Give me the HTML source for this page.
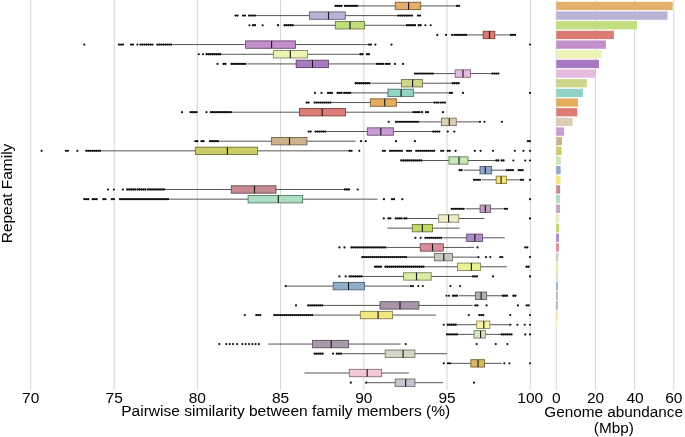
<!DOCTYPE html>
<html><head><meta charset="utf-8"><style>
html,body{margin:0;padding:0;background:#fff;}
body{width:685px;height:437px;overflow:hidden;position:relative;}
svg{position:absolute;left:0;top:0;}
.g{stroke:#d6d6d6;stroke-width:1;}
.w{stroke:#555;stroke-width:1;}
.b{stroke-width:0.9;}
.m{stroke:#1a1a1a;stroke-width:1.15;}
.o{fill:#111;}
.od{stroke:#111;stroke-width:2.3;stroke-linecap:round;stroke-dasharray:0 2.0;}
text{font-family:"Liberation Sans",Arial,sans-serif;fill:#000;}
</style></head><body>
<svg width="685" height="437" viewBox="0 0 685 437">
<line x1="30.7" y1="0" x2="30.7" y2="390" class="g"/>
<line x1="114.2" y1="0" x2="114.2" y2="390" class="g"/>
<line x1="197.3" y1="0" x2="197.3" y2="390" class="g"/>
<line x1="280.5" y1="0" x2="280.5" y2="390" class="g"/>
<line x1="363.8" y1="0" x2="363.8" y2="390" class="g"/>
<line x1="447" y1="0" x2="447" y2="390" class="g"/>
<line x1="530.3" y1="0" x2="530.3" y2="390" class="g"/>
<line x1="556.3" y1="0" x2="556.3" y2="390" class="g"/>
<line x1="595.5" y1="0" x2="595.5" y2="390" class="g"/>
<line x1="634.6" y1="0" x2="634.6" y2="390" class="g"/>
<line x1="673.8" y1="0" x2="673.8" y2="390" class="g"/>
<rect x="556.3" y="1.8" width="116.4" height="8.3" fill="#E4B069"/>
<rect x="556.3" y="11.46" width="111.3" height="8.3" fill="#B9B3D6"/>
<rect x="556.3" y="21.12" width="80.7" height="8.3" fill="#C2DE7E"/>
<rect x="556.3" y="30.78" width="57.6" height="8.3" fill="#DD7A72"/>
<rect x="556.3" y="40.44" width="49.6" height="8.3" fill="#C48ECC"/>
<rect x="556.3" y="50.1" width="45.5" height="8.3" fill="#EDF4B6"/>
<rect x="556.3" y="59.76" width="42.7" height="8.3" fill="#A97AC2"/>
<rect x="556.3" y="69.42" width="39.3" height="8.3" fill="#E7BAE0"/>
<rect x="556.3" y="79.08" width="30.6" height="8.3" fill="#CFD68A"/>
<rect x="556.3" y="88.74" width="26.7" height="8.3" fill="#93D3C6"/>
<rect x="556.3" y="98.4" width="21.7" height="8.3" fill="#E5AE5E"/>
<rect x="556.3" y="108.06" width="21" height="8.3" fill="#DE7B76"/>
<rect x="556.3" y="117.72" width="16.4" height="8.3" fill="#DCCDB5"/>
<rect x="556.3" y="127.38" width="7.7" height="8.3" fill="#C99AD6"/>
<rect x="556.3" y="137.04" width="5.7" height="8.3" fill="#CDB28C"/>
<rect x="556.3" y="146.7" width="5.2" height="8.3" fill="#CCCC66"/>
<rect x="556.3" y="156.36" width="4.5" height="8.3" fill="#C9E6B5"/>
<rect x="556.3" y="166.02" width="4.3" height="8.3" fill="#8EA7CC"/>
<rect x="556.3" y="175.68" width="4.1" height="8.3" fill="#F5E67A"/>
<rect x="556.3" y="185.34" width="3.9" height="8.3" fill="#C48A90"/>
<rect x="556.3" y="195" width="3.6" height="8.3" fill="#ACDEC2"/>
<rect x="556.3" y="204.66" width="3.6" height="8.3" fill="#C2A0C2"/>
<rect x="556.3" y="214.32" width="3.1" height="8.3" fill="#EFEDC3"/>
<rect x="556.3" y="223.98" width="2.9" height="8.3" fill="#C2DA66"/>
<rect x="556.3" y="233.64" width="2.7" height="8.3" fill="#AE8ECA"/>
<rect x="556.3" y="243.3" width="2.7" height="8.3" fill="#DA8E9A"/>
<rect x="556.3" y="252.96" width="2" height="8.3" fill="#C8C8C0"/>
<rect x="556.3" y="262.62" width="2" height="8.3" fill="#EAF095"/>
<rect x="556.3" y="272.28" width="1.7" height="8.3" fill="#DDEDA8"/>
<rect x="556.3" y="281.94" width="1.6" height="8.3" fill="#90AECC"/>
<rect x="556.3" y="291.6" width="1.5" height="8.3" fill="#B0B0B0"/>
<rect x="556.3" y="301.26" width="1.3" height="8.3" fill="#A896A8"/>
<rect x="556.3" y="310.92" width="1.2" height="8.3" fill="#F2E680"/>
<rect x="556.3" y="320.58" width="1" height="8.3" fill="#FBF5A8"/>
<line x1="358" y1="5.95" x2="457" y2="5.95" class="w"/>
<rect x="395.3" y="2.25" width="25.4" height="7.4" fill="#E4B069" stroke="#7d6039" class="b"/>
<line x1="408.6" y1="2.25" x2="408.6" y2="9.65" class="m"/>
<line x1="335.5" y1="5.95" x2="342" y2="5.95" class="od"/>
<line x1="345" y1="5.95" x2="358" y2="5.95" class="od"/>
<line x1="457" y1="5.95" x2="460" y2="5.95" class="od"/>
<line x1="256" y1="15.61" x2="398.3" y2="15.61" class="w"/>
<rect x="309.4" y="11.91" width="35.9" height="7.4" fill="#B9B3D6" stroke="#656275" class="b"/>
<line x1="328.5" y1="11.91" x2="328.5" y2="19.31" class="m"/>
<line x1="235.5" y1="15.61" x2="239" y2="15.61" class="od"/>
<line x1="243" y1="15.61" x2="247" y2="15.61" class="od"/>
<line x1="249" y1="15.61" x2="256" y2="15.61" class="od"/>
<line x1="398.3" y1="15.61" x2="406.6" y2="15.61" class="od"/>
<line x1="408" y1="15.61" x2="413" y2="15.61" class="od"/>
<line x1="418" y1="15.61" x2="421" y2="15.61" class="od"/>
<line x1="293" y1="25.27" x2="407" y2="25.27" class="w"/>
<rect x="335.3" y="21.57" width="29.2" height="7.4" fill="#C2DE7E" stroke="#6a7a45" class="b"/>
<line x1="350" y1="21.57" x2="350" y2="28.97" class="m"/>
<circle cx="249.5" cy="25.27" r="1.1" class="o"/>
<line x1="253" y1="25.27" x2="257" y2="25.27" class="od"/>
<circle cx="262.7" cy="25.27" r="1.1" class="o"/>
<line x1="278" y1="25.27" x2="280" y2="25.27" class="od"/>
<line x1="284.6" y1="25.27" x2="293" y2="25.27" class="od"/>
<line x1="407" y1="25.27" x2="417" y2="25.27" class="od"/>
<line x1="418.7" y1="25.27" x2="421.6" y2="25.27" class="od"/>
<circle cx="425.4" cy="25.27" r="1.1" class="o"/>
<circle cx="430.7" cy="25.27" r="1.1" class="o"/>
<line x1="467.5" y1="34.93" x2="511" y2="34.93" class="w"/>
<rect x="483.2" y="31.23" width="11.6" height="7.4" fill="#DD7A72" stroke="#79433e" class="b"/>
<line x1="489.5" y1="31.23" x2="489.5" y2="38.63" class="m"/>
<circle cx="437.3" cy="34.93" r="1.1" class="o"/>
<circle cx="446" cy="34.93" r="1.1" class="o"/>
<circle cx="452" cy="34.93" r="1.1" class="o"/>
<line x1="454.3" y1="34.93" x2="467.5" y2="34.93" class="od"/>
<line x1="511" y1="34.93" x2="516" y2="34.93" class="od"/>
<line x1="172.7" y1="44.59" x2="368.8" y2="44.59" class="w"/>
<rect x="245.6" y="40.89" width="49.8" height="7.4" fill="#C48ECC" stroke="#6b4e70" class="b"/>
<line x1="271.6" y1="40.89" x2="271.6" y2="48.29" class="m"/>
<circle cx="84.3" cy="44.59" r="1.1" class="o"/>
<line x1="119" y1="44.59" x2="124.6" y2="44.59" class="od"/>
<line x1="131" y1="44.59" x2="134.4" y2="44.59" class="od"/>
<circle cx="137.4" cy="44.59" r="1.1" class="o"/>
<line x1="140.5" y1="44.59" x2="154" y2="44.59" class="od"/>
<line x1="157.3" y1="44.59" x2="172.7" y2="44.59" class="od"/>
<line x1="369" y1="44.59" x2="372" y2="44.59" class="od"/>
<circle cx="375.4" cy="44.59" r="1.1" class="o"/>
<circle cx="391.5" cy="44.59" r="1.1" class="o"/>
<circle cx="530" cy="44.59" r="1.1" class="o"/>
<line x1="222" y1="54.25" x2="360" y2="54.25" class="w"/>
<rect x="273.4" y="50.55" width="34.2" height="7.4" fill="#EDF4B6" stroke="#828664" class="b"/>
<line x1="290.3" y1="50.55" x2="290.3" y2="57.95" class="m"/>
<circle cx="198.8" cy="54.25" r="1.1" class="o"/>
<circle cx="203" cy="54.25" r="1.1" class="o"/>
<line x1="206.5" y1="54.25" x2="221.8" y2="54.25" class="od"/>
<line x1="360.5" y1="54.25" x2="364" y2="54.25" class="od"/>
<line x1="366.9" y1="54.25" x2="369.7" y2="54.25" class="od"/>
<line x1="247.4" y1="63.91" x2="376.5" y2="63.91" class="w"/>
<rect x="296.2" y="60.21" width="32.2" height="7.4" fill="#A97AC2" stroke="#5c436a" class="b"/>
<line x1="312.5" y1="60.21" x2="312.5" y2="67.61" class="m"/>
<circle cx="217.5" cy="63.91" r="1.1" class="o"/>
<line x1="223.5" y1="63.91" x2="227" y2="63.91" class="od"/>
<line x1="231.5" y1="63.91" x2="247.4" y2="63.91" class="od"/>
<line x1="377" y1="63.91" x2="383.5" y2="63.91" class="od"/>
<line x1="385.6" y1="63.91" x2="391.1" y2="63.91" class="od"/>
<circle cx="394.9" cy="63.91" r="1.1" class="o"/>
<circle cx="403" cy="63.91" r="1.1" class="o"/>
<line x1="433.4" y1="73.57" x2="492.4" y2="73.57" class="w"/>
<rect x="455.2" y="69.87" width="15.4" height="7.4" fill="#E7BAE0" stroke="#7f667b" class="b"/>
<line x1="463" y1="69.87" x2="463" y2="77.27" class="m"/>
<line x1="415" y1="73.57" x2="433.4" y2="73.57" class="od"/>
<line x1="492.4" y1="73.57" x2="499" y2="73.57" class="od"/>
<line x1="371.4" y1="83.23" x2="452.7" y2="83.23" class="w"/>
<rect x="401.5" y="79.53" width="20.9" height="7.4" fill="#CFD68A" stroke="#71754b" class="b"/>
<line x1="412.6" y1="79.53" x2="412.6" y2="86.93" class="m"/>
<line x1="355.6" y1="83.23" x2="371.4" y2="83.23" class="od"/>
<line x1="452.7" y1="83.23" x2="460" y2="83.23" class="od"/>
<line x1="351" y1="92.89" x2="449.8" y2="92.89" class="w"/>
<rect x="387.9" y="89.19" width="25.6" height="7.4" fill="#93D3C6" stroke="#50746c" class="b"/>
<line x1="401.1" y1="89.19" x2="401.1" y2="96.59" class="m"/>
<circle cx="315" cy="92.89" r="1.1" class="o"/>
<circle cx="321.5" cy="92.89" r="1.1" class="o"/>
<line x1="328" y1="92.89" x2="334" y2="92.89" class="od"/>
<line x1="337.6" y1="92.89" x2="342.3" y2="92.89" class="od"/>
<line x1="344.2" y1="92.89" x2="350.9" y2="92.89" class="od"/>
<line x1="450" y1="92.89" x2="454" y2="92.89" class="od"/>
<circle cx="463" cy="92.89" r="1.1" class="o"/>
<circle cx="530" cy="92.89" r="1.1" class="o"/>
<line x1="331.7" y1="102.55" x2="435" y2="102.55" class="w"/>
<rect x="370.4" y="98.85" width="26" height="7.4" fill="#E5AE5E" stroke="#7d5f33" class="b"/>
<line x1="384.7" y1="98.85" x2="384.7" y2="106.25" class="m"/>
<line x1="306.6" y1="102.55" x2="309" y2="102.55" class="od"/>
<line x1="314.6" y1="102.55" x2="331.7" y2="102.55" class="od"/>
<line x1="434.6" y1="102.55" x2="440" y2="102.55" class="od"/>
<line x1="441" y1="102.55" x2="443.3" y2="102.55" class="od"/>
<line x1="445" y1="102.55" x2="446.5" y2="102.55" class="od"/>
<line x1="231" y1="112.21" x2="413.5" y2="112.21" class="w"/>
<rect x="299.5" y="108.51" width="46" height="7.4" fill="#DE7B76" stroke="#7a4340" class="b"/>
<line x1="322.2" y1="108.51" x2="322.2" y2="115.91" class="m"/>
<circle cx="182" cy="112.21" r="1.1" class="o"/>
<line x1="190.6" y1="112.21" x2="198.5" y2="112.21" class="od"/>
<circle cx="206.5" cy="112.21" r="1.1" class="o"/>
<line x1="210.8" y1="112.21" x2="231" y2="112.21" class="od"/>
<line x1="413.5" y1="112.21" x2="420" y2="112.21" class="od"/>
<line x1="422" y1="112.21" x2="424" y2="112.21" class="od"/>
<line x1="426" y1="112.21" x2="429.4" y2="112.21" class="od"/>
<circle cx="442.9" cy="112.21" r="1.1" class="o"/>
<line x1="418.5" y1="121.87" x2="479.8" y2="121.87" class="w"/>
<rect x="441.4" y="118.17" width="14.9" height="7.4" fill="#DCCDB5" stroke="#797063" class="b"/>
<line x1="449.3" y1="118.17" x2="449.3" y2="125.57" class="m"/>
<circle cx="388.7" cy="121.87" r="1.1" class="o"/>
<line x1="396" y1="121.87" x2="418.5" y2="121.87" class="od"/>
<circle cx="480" cy="121.87" r="1.1" class="o"/>
<circle cx="484.5" cy="121.87" r="1.1" class="o"/>
<circle cx="501.9" cy="121.87" r="1.1" class="o"/>
<line x1="327" y1="131.53" x2="433.3" y2="131.53" class="w"/>
<rect x="367.3" y="127.83" width="26.1" height="7.4" fill="#C99AD6" stroke="#6e5475" class="b"/>
<line x1="380.8" y1="127.83" x2="380.8" y2="135.23" class="m"/>
<line x1="308.7" y1="131.53" x2="311.5" y2="131.53" class="od"/>
<line x1="315.5" y1="131.53" x2="327" y2="131.53" class="od"/>
<line x1="433.3" y1="131.53" x2="441.2" y2="131.53" class="od"/>
<circle cx="447.8" cy="131.53" r="1.1" class="o"/>
<circle cx="454.3" cy="131.53" r="1.1" class="o"/>
<line x1="219.3" y1="141.19" x2="355.4" y2="141.19" class="w"/>
<rect x="271.6" y="137.49" width="35.3" height="7.4" fill="#CDB28C" stroke="#70614d" class="b"/>
<line x1="289.5" y1="137.49" x2="289.5" y2="144.89" class="m"/>
<line x1="195.4" y1="141.19" x2="199" y2="141.19" class="od"/>
<line x1="201.5" y1="141.19" x2="205" y2="141.19" class="od"/>
<line x1="210" y1="141.19" x2="219.3" y2="141.19" class="od"/>
<circle cx="361" cy="141.19" r="1.1" class="o"/>
<circle cx="365.7" cy="141.19" r="1.1" class="o"/>
<circle cx="396" cy="141.19" r="1.1" class="o"/>
<circle cx="414.9" cy="141.19" r="1.1" class="o"/>
<line x1="527.9" y1="141.19" x2="530.5" y2="141.19" class="od"/>
<line x1="101.6" y1="150.85" x2="349.6" y2="150.85" class="w"/>
<rect x="195.4" y="147.15" width="62.2" height="7.4" fill="#CCCC66" stroke="#707038" class="b"/>
<line x1="227.4" y1="147.15" x2="227.4" y2="154.55" class="m"/>
<circle cx="41.6" cy="150.85" r="1.1" class="o"/>
<line x1="65.9" y1="150.85" x2="68" y2="150.85" class="od"/>
<circle cx="77.4" cy="150.85" r="1.1" class="o"/>
<line x1="86.3" y1="150.85" x2="101.6" y2="150.85" class="od"/>
<line x1="349.6" y1="150.85" x2="353.4" y2="150.85" class="od"/>
<circle cx="359.3" cy="150.85" r="1.1" class="o"/>
<line x1="382.9" y1="150.85" x2="386" y2="150.85" class="od"/>
<line x1="390" y1="150.85" x2="403" y2="150.85" class="od"/>
<line x1="407" y1="150.85" x2="412.3" y2="150.85" class="od"/>
<line x1="416.2" y1="150.85" x2="434.6" y2="150.85" class="od"/>
<line x1="441.2" y1="150.85" x2="443.8" y2="150.85" class="od"/>
<line x1="447.8" y1="150.85" x2="451.7" y2="150.85" class="od"/>
<line x1="455.6" y1="150.85" x2="457.5" y2="150.85" class="od"/>
<line x1="474.8" y1="150.85" x2="476.7" y2="150.85" class="od"/>
<line x1="480.6" y1="150.85" x2="482" y2="150.85" class="od"/>
<circle cx="493" cy="150.85" r="1.1" class="o"/>
<circle cx="514.8" cy="150.85" r="1.1" class="o"/>
<circle cx="523.4" cy="150.85" r="1.1" class="o"/>
<circle cx="530" cy="150.85" r="1.1" class="o"/>
<line x1="421.5" y1="160.51" x2="495.6" y2="160.51" class="w"/>
<rect x="449" y="156.81" width="19" height="7.4" fill="#C9E6B5" stroke="#6e7e63" class="b"/>
<line x1="459" y1="156.81" x2="459" y2="164.21" class="m"/>
<line x1="401.3" y1="160.51" x2="421.5" y2="160.51" class="od"/>
<line x1="496.4" y1="160.51" x2="499" y2="160.51" class="od"/>
<line x1="501.6" y1="160.51" x2="505.6" y2="160.51" class="od"/>
<circle cx="513.4" cy="160.51" r="1.1" class="o"/>
<circle cx="525.3" cy="160.51" r="1.1" class="o"/>
<circle cx="530" cy="160.51" r="1.1" class="o"/>
<line x1="463.5" y1="170.17" x2="506.9" y2="170.17" class="w"/>
<rect x="480" y="166.47" width="11.6" height="7.4" fill="#8EA7CC" stroke="#4e5b70" class="b"/>
<line x1="485.3" y1="166.47" x2="485.3" y2="173.87" class="m"/>
<line x1="459.6" y1="170.17" x2="463.5" y2="170.17" class="od"/>
<line x1="506.9" y1="170.17" x2="514.8" y2="170.17" class="od"/>
<line x1="518.7" y1="170.17" x2="523.4" y2="170.17" class="od"/>
<line x1="481.9" y1="179.83" x2="520.5" y2="179.83" class="w"/>
<rect x="496.2" y="176.13" width="10.2" height="7.4" fill="#F5E67A" stroke="#867e43" class="b"/>
<line x1="501.1" y1="176.13" x2="501.1" y2="183.53" class="m"/>
<line x1="474" y1="179.83" x2="481.9" y2="179.83" class="od"/>
<line x1="521" y1="179.83" x2="525" y2="179.83" class="od"/>
<circle cx="530" cy="179.83" r="1.1" class="o"/>
<line x1="164.2" y1="189.49" x2="344" y2="189.49" class="w"/>
<rect x="231.3" y="185.79" width="44.7" height="7.4" fill="#C48A90" stroke="#6b4b4f" class="b"/>
<line x1="254.5" y1="185.79" x2="254.5" y2="193.19" class="m"/>
<circle cx="108" cy="189.49" r="1.1" class="o"/>
<circle cx="113.9" cy="189.49" r="1.1" class="o"/>
<circle cx="122.9" cy="189.49" r="1.1" class="o"/>
<line x1="127.2" y1="189.49" x2="136" y2="189.49" class="od"/>
<line x1="137.5" y1="189.49" x2="146" y2="189.49" class="od"/>
<line x1="148" y1="189.49" x2="164.2" y2="189.49" class="od"/>
<line x1="345" y1="189.49" x2="350" y2="189.49" class="od"/>
<circle cx="357.7" cy="189.49" r="1.1" class="o"/>
<line x1="168.6" y1="199.15" x2="377.6" y2="199.15" class="w"/>
<rect x="248.1" y="195.45" width="54.5" height="7.4" fill="#ACDEC2" stroke="#5e7a6a" class="b"/>
<line x1="278.3" y1="195.45" x2="278.3" y2="202.85" class="m"/>
<line x1="84.3" y1="199.15" x2="88.4" y2="199.15" class="od"/>
<line x1="92.7" y1="199.15" x2="97" y2="199.15" class="od"/>
<line x1="103.4" y1="199.15" x2="106.8" y2="199.15" class="od"/>
<line x1="111.9" y1="199.15" x2="115" y2="199.15" class="od"/>
<line x1="120" y1="199.15" x2="168.6" y2="199.15" class="od"/>
<circle cx="383.9" cy="199.15" r="1.1" class="o"/>
<line x1="392" y1="199.15" x2="395" y2="199.15" class="od"/>
<circle cx="402.3" cy="199.15" r="1.1" class="o"/>
<circle cx="530" cy="199.15" r="1.1" class="o"/>
<line x1="465.6" y1="208.81" x2="504.8" y2="208.81" class="w"/>
<rect x="480.1" y="205.11" width="10.5" height="7.4" fill="#C2A0C2" stroke="#6a586a" class="b"/>
<line x1="485.3" y1="205.11" x2="485.3" y2="212.51" class="m"/>
<line x1="451.7" y1="208.81" x2="465.6" y2="208.81" class="od"/>
<line x1="505" y1="208.81" x2="509" y2="208.81" class="od"/>
<line x1="407" y1="218.47" x2="484.5" y2="218.47" class="w"/>
<rect x="438.6" y="214.77" width="20.2" height="7.4" fill="#EFEDC3" stroke="#83826b" class="b"/>
<line x1="448.6" y1="214.77" x2="448.6" y2="222.17" class="m"/>
<circle cx="383.8" cy="218.47" r="1.1" class="o"/>
<line x1="388.4" y1="218.47" x2="391.8" y2="218.47" class="od"/>
<line x1="395.7" y1="218.47" x2="402" y2="218.47" class="od"/>
<line x1="404.4" y1="218.47" x2="407.8" y2="218.47" class="od"/>
<circle cx="530" cy="218.47" r="1.1" class="o"/>
<line x1="387.3" y1="228.13" x2="459.6" y2="228.13" class="w"/>
<rect x="412.3" y="224.43" width="20.2" height="7.4" fill="#C2DA66" stroke="#6a7738" class="b"/>
<line x1="422.3" y1="224.43" x2="422.3" y2="231.83" class="m"/>
<line x1="443.3" y1="237.79" x2="504.8" y2="237.79" class="w"/>
<rect x="466.7" y="234.09" width="15.8" height="7.4" fill="#AE8ECA" stroke="#5f4e6f" class="b"/>
<line x1="474.8" y1="234.09" x2="474.8" y2="241.49" class="m"/>
<circle cx="415.4" cy="237.79" r="1.1" class="o"/>
<circle cx="420.7" cy="237.79" r="1.1" class="o"/>
<line x1="425.4" y1="237.79" x2="443.3" y2="237.79" class="od"/>
<line x1="386.5" y1="247.45" x2="474" y2="247.45" class="w"/>
<rect x="420.2" y="243.75" width="23.1" height="7.4" fill="#DA8E9A" stroke="#774e54" class="b"/>
<line x1="432.5" y1="243.75" x2="432.5" y2="251.15" class="m"/>
<circle cx="339.4" cy="247.45" r="1.1" class="o"/>
<circle cx="344.5" cy="247.45" r="1.1" class="o"/>
<line x1="351.4" y1="247.45" x2="386.5" y2="247.45" class="od"/>
<circle cx="477.5" cy="247.45" r="1.1" class="o"/>
<line x1="525.3" y1="247.45" x2="527.4" y2="247.45" class="od"/>
<line x1="407.6" y1="257.11" x2="478" y2="257.11" class="w"/>
<rect x="434.4" y="253.41" width="18.1" height="7.4" fill="#C8C8C0" stroke="#6e6e69" class="b"/>
<line x1="443.8" y1="253.41" x2="443.8" y2="260.81" class="m"/>
<line x1="362.3" y1="257.11" x2="407.6" y2="257.11" class="od"/>
<circle cx="478.5" cy="257.11" r="1.1" class="o"/>
<circle cx="485.9" cy="257.11" r="1.1" class="o"/>
<circle cx="490.3" cy="257.11" r="1.1" class="o"/>
<line x1="500.3" y1="257.11" x2="504.3" y2="257.11" class="od"/>
<circle cx="530" cy="257.11" r="1.1" class="o"/>
<line x1="424.1" y1="266.77" x2="506.9" y2="266.77" class="w"/>
<rect x="457.5" y="263.07" width="23.1" height="7.4" fill="#EAF095" stroke="#808451" class="b"/>
<line x1="471.4" y1="263.07" x2="471.4" y2="270.47" class="m"/>
<line x1="375" y1="266.77" x2="382" y2="266.77" class="od"/>
<line x1="385.5" y1="266.77" x2="424.1" y2="266.77" class="od"/>
<line x1="526.6" y1="266.77" x2="530.5" y2="266.77" class="od"/>
<line x1="362.3" y1="276.43" x2="472.7" y2="276.43" class="w"/>
<rect x="403.6" y="272.73" width="27.6" height="7.4" fill="#DDEDA8" stroke="#79825c" class="b"/>
<line x1="416.5" y1="272.73" x2="416.5" y2="280.13" class="m"/>
<circle cx="339.4" cy="276.43" r="1.1" class="o"/>
<circle cx="345.7" cy="276.43" r="1.1" class="o"/>
<line x1="349.6" y1="276.43" x2="362.3" y2="276.43" class="od"/>
<line x1="473" y1="276.43" x2="478.5" y2="276.43" class="od"/>
<circle cx="493" cy="276.43" r="1.1" class="o"/>
<circle cx="530" cy="276.43" r="1.1" class="o"/>
<line x1="285.7" y1="286.09" x2="411" y2="286.09" class="w"/>
<rect x="333.2" y="282.39" width="31.2" height="7.4" fill="#90AECC" stroke="#4f5f70" class="b"/>
<line x1="348.5" y1="282.39" x2="348.5" y2="289.79" class="m"/>
<circle cx="285.7" cy="286.09" r="1.1" class="o"/>
<line x1="411" y1="286.09" x2="414.4" y2="286.09" class="od"/>
<circle cx="418.3" cy="286.09" r="1.1" class="o"/>
<circle cx="422.8" cy="286.09" r="1.1" class="o"/>
<circle cx="450.4" cy="286.09" r="1.1" class="o"/>
<circle cx="460.1" cy="286.09" r="1.1" class="o"/>
<line x1="459" y1="295.75" x2="503" y2="295.75" class="w"/>
<rect x="475.4" y="292.05" width="11.2" height="7.4" fill="#B0B0B0" stroke="#606060" class="b"/>
<line x1="481.1" y1="292.05" x2="481.1" y2="299.45" class="m"/>
<circle cx="446.5" cy="295.75" r="1.1" class="o"/>
<circle cx="449" cy="295.75" r="1.1" class="o"/>
<line x1="453" y1="295.75" x2="459" y2="295.75" class="od"/>
<line x1="503" y1="295.75" x2="509" y2="295.75" class="od"/>
<line x1="513.4" y1="295.75" x2="516" y2="295.75" class="od"/>
<line x1="322.7" y1="305.41" x2="472.7" y2="305.41" class="w"/>
<rect x="380" y="301.71" width="38.9" height="7.4" fill="#A896A8" stroke="#5c525c" class="b"/>
<line x1="400" y1="301.71" x2="400" y2="309.11" class="m"/>
<circle cx="296" cy="305.41" r="1.1" class="o"/>
<line x1="308.2" y1="305.41" x2="322.7" y2="305.41" class="od"/>
<line x1="475.4" y1="305.41" x2="479.3" y2="305.41" class="od"/>
<circle cx="486.6" cy="305.41" r="1.1" class="o"/>
<circle cx="517.9" cy="305.41" r="1.1" class="o"/>
<line x1="526.6" y1="305.41" x2="530.5" y2="305.41" class="od"/>
<line x1="312.5" y1="315.07" x2="435.9" y2="315.07" class="w"/>
<rect x="360.3" y="311.37" width="32.3" height="7.4" fill="#F2E680" stroke="#857e46" class="b"/>
<line x1="378.1" y1="311.37" x2="378.1" y2="318.77" class="m"/>
<circle cx="244.8" cy="315.07" r="1.1" class="o"/>
<line x1="256.3" y1="315.07" x2="261.4" y2="315.07" class="od"/>
<line x1="274.2" y1="315.07" x2="312.5" y2="315.07" class="od"/>
<circle cx="468.8" cy="315.07" r="1.1" class="o"/>
<line x1="479.3" y1="315.07" x2="485.3" y2="315.07" class="od"/>
<circle cx="510.3" cy="315.07" r="1.1" class="o"/>
<circle cx="530" cy="315.07" r="1.1" class="o"/>
<line x1="457" y1="324.73" x2="510.3" y2="324.73" class="w"/>
<rect x="476.7" y="321.03" width="13.1" height="7.4" fill="#FBF5A8" stroke="#8a865c" class="b"/>
<line x1="483.8" y1="321.03" x2="483.8" y2="328.43" class="m"/>
<circle cx="443.8" cy="324.73" r="1.1" class="o"/>
<line x1="447.8" y1="324.73" x2="457" y2="324.73" class="od"/>
<circle cx="510.3" cy="324.73" r="1.1" class="o"/>
<circle cx="517.4" cy="324.73" r="1.1" class="o"/>
<circle cx="524.7" cy="324.73" r="1.1" class="o"/>
<circle cx="530" cy="324.73" r="1.1" class="o"/>
<line x1="457.5" y1="334.39" x2="501.6" y2="334.39" class="w"/>
<rect x="474" y="330.69" width="11.3" height="7.4" fill="#D4E8C4" stroke="#747f6b" class="b"/>
<line x1="480.6" y1="330.69" x2="480.6" y2="338.09" class="m"/>
<line x1="447" y1="334.39" x2="457.5" y2="334.39" class="od"/>
<line x1="501.6" y1="334.39" x2="513.4" y2="334.39" class="od"/>
<circle cx="525.3" cy="334.39" r="1.1" class="o"/>
<circle cx="530" cy="334.39" r="1.1" class="o"/>
<line x1="268.3" y1="344.05" x2="400.5" y2="344.05" class="w"/>
<rect x="312.5" y="340.35" width="36.1" height="7.4" fill="#A898AC" stroke="#5c535e" class="b"/>
<line x1="331.2" y1="340.35" x2="331.2" y2="347.75" class="m"/>
<circle cx="219.3" cy="344.05" r="1.1" class="o"/>
<circle cx="226.2" cy="344.05" r="1.1" class="o"/>
<circle cx="229.6" cy="344.05" r="1.1" class="o"/>
<circle cx="233" cy="344.05" r="1.1" class="o"/>
<circle cx="237.2" cy="344.05" r="1.1" class="o"/>
<circle cx="242.3" cy="344.05" r="1.1" class="o"/>
<circle cx="245.6" cy="344.05" r="1.1" class="o"/>
<circle cx="249" cy="344.05" r="1.1" class="o"/>
<circle cx="252.4" cy="344.05" r="1.1" class="o"/>
<circle cx="255.6" cy="344.05" r="1.1" class="o"/>
<circle cx="258.9" cy="344.05" r="1.1" class="o"/>
<circle cx="405.7" cy="344.05" r="1.1" class="o"/>
<circle cx="476.7" cy="344.05" r="1.1" class="o"/>
<circle cx="495.8" cy="344.05" r="1.1" class="o"/>
<circle cx="507.4" cy="344.05" r="1.1" class="o"/>
<line x1="341" y1="353.71" x2="447.2" y2="353.71" class="w"/>
<rect x="385.2" y="350.01" width="29.7" height="7.4" fill="#D6D6C4" stroke="#75756b" class="b"/>
<line x1="403.1" y1="350.01" x2="403.1" y2="357.41" class="m"/>
<line x1="314.6" y1="353.71" x2="323.5" y2="353.71" class="od"/>
<circle cx="333" cy="353.71" r="1.1" class="o"/>
<line x1="336.8" y1="353.71" x2="341" y2="353.71" class="od"/>
<line x1="451" y1="363.37" x2="501.6" y2="363.37" class="w"/>
<rect x="470.9" y="359.67" width="13.6" height="7.4" fill="#D8B860" stroke="#766534" class="b"/>
<line x1="478" y1="359.67" x2="478" y2="367.07" class="m"/>
<circle cx="443.8" cy="363.37" r="1.1" class="o"/>
<line x1="448" y1="363.37" x2="451" y2="363.37" class="od"/>
<circle cx="504.3" cy="363.37" r="1.1" class="o"/>
<circle cx="509.5" cy="363.37" r="1.1" class="o"/>
<circle cx="530" cy="363.37" r="1.1" class="o"/>
<line x1="304.4" y1="373.03" x2="408.9" y2="373.03" class="w"/>
<rect x="349.3" y="369.33" width="32.3" height="7.4" fill="#F0C8D8" stroke="#846e76" class="b"/>
<line x1="367.2" y1="369.33" x2="367.2" y2="376.73" class="m"/>
<line x1="367.1" y1="382.69" x2="443" y2="382.69" class="w"/>
<rect x="395.2" y="378.99" width="19.7" height="7.4" fill="#C6C6D0" stroke="#6c6c72" class="b"/>
<line x1="405.7" y1="378.99" x2="405.7" y2="386.39" class="m"/>
<circle cx="350.8" cy="382.69" r="1.1" class="o"/>
<circle cx="366.2" cy="382.69" r="1.1" class="o"/>
<circle cx="474" cy="382.69" r="1.1" class="o"/>
<g font-size="15.5">
<text x="30.7" y="403.0" text-anchor="middle">70</text>
<text x="114.2" y="403.0" text-anchor="middle">75</text>
<text x="197.3" y="403.0" text-anchor="middle">80</text>
<text x="280.5" y="403.0" text-anchor="middle">85</text>
<text x="363.8" y="403.0" text-anchor="middle">90</text>
<text x="447" y="403.0" text-anchor="middle">95</text>
<text x="530.3" y="403.0" text-anchor="middle">100</text>
<text x="556.3" y="403.0" text-anchor="middle">0</text>
<text x="595.5" y="403.0" text-anchor="middle">20</text>
<text x="635" y="403.0" text-anchor="middle">40</text>
<text x="673.8" y="403.0" text-anchor="middle">60</text>
<text x="121.2" y="416.2" textLength="329" lengthAdjust="spacingAndGlyphs">Pairwise similarity between family members (%)</text>
<text x="544.3" y="416.6" font-size="15.3" textLength="138.6" lengthAdjust="spacingAndGlyphs">Genome abundance</text>
<text x="593.8" y="432.6" font-size="15.3">(Mbp)</text>
<text transform="translate(11.6,243.2) rotate(-90)" font-size="15.2" textLength="99.5" lengthAdjust="spacingAndGlyphs">Repeat Family</text>
</g>
</svg>
</body></html>
